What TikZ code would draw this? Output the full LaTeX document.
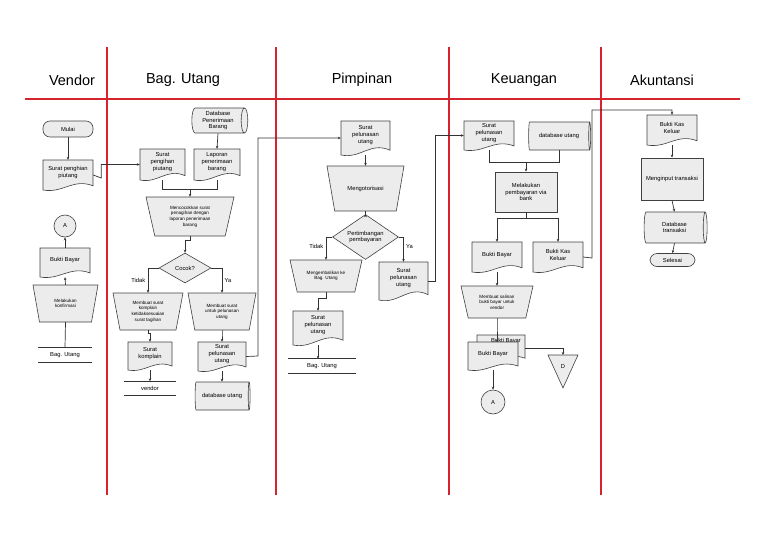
\documentclass[tikz,border=0pt]{standalone}
\usepackage{fontspec}
\setmainfont{Liberation Sans}
\usetikzlibrary{shapes.geometric,arrows.meta}
\definecolor{lanered}{RGB}{215,35,45}
\definecolor{shfill}{RGB}{236,236,236}
\tikzset{
  shp/.style={draw=black!75,fill=shfill,line width=0.6pt},
  box/.style={draw=none,inner sep=0pt,align=center,font=\fontsize{5.8}{6.8}\selectfont},
  tiny/.style={font=\fontsize{4.6}{5.6}\selectfont},
  arr/.style={draw=black!80,line width=0.7pt,-{Stealth[length=3pt,width=2.6pt]}},
  ln/.style={draw=black!80,line width=0.7pt},
  lane/.style={draw=lanered,line width=1.1pt},
  cyl/.style={shp,cylinder,shape aspect=0.35,inner sep=0pt,align=center,font=\fontsize{5.8}{6.8}\selectfont},
  term/.style={shp,rounded corners=7pt,inner sep=0pt,align=center,font=\fontsize{5.8}{6.8}\selectfont},
  hdr/.style={font=\fontsize{14.5}{16}\selectfont},
  lbl/.style={font=\fontsize{5.8}{6.8}\selectfont}
}
\newcommand\Docu[6]{%
 \draw[shp] (#2,#3)--(#4,#3)--(#4,{#5-0.14*(#5-#3)}) .. controls ({#2+0.6*(#4-#2)},{#5-0.4*(#5-#3)}) and ({#2+0.4*(#4-#2)},{#5+0.12*(#5-#3)}) .. (#2,#5) -- cycle;
 \node[box,minimum width={#4-#2},minimum height={#5-#3}] (#1) at ({(#2+#4)/2},{(#3+#5)/2}) {};
 \node[box] at ({(#2+#4)/2},{(#3+#5)/2-0.08*(#5-#3)}) {#6};}
\newcommand\Trap[6]{%
 \draw[shp] (#2,#3)--(#4,#3)--({#4-0.1*(#4-#2)},#5)--({#2+0.1*(#4-#2)},#5)--cycle;
 \node[box,minimum width={#4-#2},minimum height={#5-#3}] (#1) at ({(#2+#4)/2},{(#3+#5)/2}) {};
 \node[box,tiny] at ({(#2+#4)/2},{(#3+#5)/2}) {#6};}
\newcommand\Mark[5]{%
 \node[box,minimum width=#4,minimum height=14] (#1) at (#2,#3) {#5};
 \draw[ln] (#1.north west)--(#1.north east) (#1.south west)--(#1.south east);}
\begin{document}
\begin{tikzpicture}[x=1pt,y=-1pt]
\useasboundingbox (0,0) rectangle (768,538);
\foreach \x in {107,276,449,601} \draw[lane] (\x,47)--(\x,495);
\draw[lane] (25,99)--(740,99);
\node[hdr] (h1) at (72,80) {Vendor};
\node[hdr] (h2) at (183,80) {Bag. Utang};
\node[hdr] (h3) at (362,80) {Pimpinan};
\node[hdr] (h4) at (524,80) {Keuangan};
\node[hdr] (h5) at (662,80) {Akuntansi};
% Vendor
\node[term,minimum width=50,minimum height=16] (mulai) at (68,129) {Mulai};
\Docu{v1}{43}{160}{93}{190}{Surat penghian\\piutang}
\node[shp,circle,minimum size=22,inner sep=0pt,lbl] (vA) at (65,226) {A};
\Docu{vbb}{40}{248}{90}{277}{Bukti Bayar}
\Trap{vk}{33}{285}{98}{322}{Melakukan\\konfirmasi}
\Mark{vbu}{65}{355}{54}{Bag. Utang}
% Bag. Utang
\node[cyl,minimum height=56,minimum width=25] (dbp) at (218,120.5) {Database\\Penerimaan\\Barang};
\Docu{b1}{140}{149}{185}{180}{Surat\\pengihan\\piutang}
\Docu{lap}{194}{149}{240}{180}{Laporan\\penerimaan\\barang}
\Trap{mc}{146}{197}{234}{236}{Mencocokkan surat\\penagihan dengan\\laporan penerimaan\\barang}
\node[shp,diamond,aspect=1.75,minimum width=52,minimum height=30,inner sep=0pt,lbl] (ck) at (185,268) {Cocok?};
\Trap{tk}{113}{293}{183}{330}{Membuat surat\\komplain\\ketidaksesuaian\\surat tagihan}
\Trap{tp}{188}{293}{256}{330}{Membuat surat\\untuk pelunasan\\utang}
\Docu{sk}{128}{342}{172}{370}{Surat\\komplain}
\Mark{vend}{150}{388.5}{52}{vendor}
\Docu{sp1}{198}{342}{246}{371}{Surat\\pelunasan\\utang}
\node[cyl,minimum height=55,minimum width=28] (dbu1) at (222,396) {database utang};
% Pimpinan
\Docu{sp2}{341}{121}{390}{155}{Surat\\pelunasan\\utang}
\Trap{mo}{327}{166}{404}{211}{\fontsize{5.8}{6.8}\selectfont Mengotorisasi}
\node[shp,diamond,aspect=1.45,minimum width=66,minimum height=45,inner sep=0pt,lbl,align=center] (pt) at (365.5,237) {Pertimbangan\\pembayaran};
\Trap{mk}{290}{260}{362}{292}{Mengembalikan ke\\Bag. Utang}
\Docu{sp3}{293}{311}{343}{345}{Surat\\pelunasan\\utang}
\Mark{pbu}{322}{366}{68}{Bag. Utang}
\Docu{sp4}{379}{262}{428}{300}{Surat\\pelunasan\\utang}
% Keuangan
\Docu{sp5}{464}{121}{514}{150}{Surat\\pelunasan\\utang}
\node[cyl,minimum height=62,minimum width=28] (dbu2) at (559,136) {database utang};
\node[shp,minimum width=62,minimum height=40,inner sep=0pt,align=center,font=\fontsize{5.8}{6.8}\selectfont,line width=0.9pt] (pb) at (526,192) {Melakukan\\pembayaran via\\bank};
\Docu{kb}{472}{242}{522}{272}{Bukti Bayar}
\Docu{kk}{533}{242}{583}{272}{Bukti Kas\\Keluar}
\Trap{sl}{461}{286}{533}{318}{Membuat salinan\\bukti bayar untuk\\vendor}
\Docu{mb2}{477}{335}{525}{362}{}
\node[box] at (506,341) {Bukti Bayar};
\Docu{mb}{468}{342}{518}{370}{Bukti Bayar}
\draw[shp] (548,355)--(578,355)--(563,388)--cycle;
\node[box] (dD) at (563,366) {D};
\coordinate (dtop) at (563,355);
\node[shp,circle,minimum size=24,inner sep=0pt,lbl] (kA) at (493,402) {A};
% Akuntansi
\Docu{ak}{647}{115}{697}{145}{Bukti Kas\\Keluar}
\node[shp,minimum width=62,minimum height=42,inner sep=0pt,font=\fontsize{5.8}{6.8}\selectfont,line width=0.9pt] (mi) at (672,179) {Menginput transaksi};
\node[cyl,minimum height=63,minimum width=31] (dbt) at (674.5,227.5) {Database\\transaksi};
\node[term,minimum width=45,minimum height=13] (sel) at (672.5,260) {Selesai};
% connectors
\draw[arr] (mulai)--(v1);
\draw[arr] (v1.east)--++(8,3)|-(b1.west);
\draw[ln] (vbu.north)--(vk.south);
\draw[arr] (vk.north)--(vbb.south);
\draw[arr] (vbb.north)--(vbb.north|-vA.south);
\draw[arr] (dbp.south)--(lap.north);
\draw[ln] (b1.south)|-(190,189);
\draw[ln] (lap.south)|-(190,189);
\draw[arr] (190,189)--(mc.north);
\draw[arr] (mc.south)--++(0,4)-|(ck.north);
\draw[arr] (ck.west)-|(tk.north) node[lbl,pos=0.75,left=-1pt] {Tidak};
\draw[arr] (ck.east)-|(tp.north) node[lbl,pos=0.75,right=-1pt] {Ya};
\draw[arr] (tk.south)--++(0,3)-|(sk.north);
\draw[arr] (sk.south)--(sk.south|-vend.north);
\draw[arr] (tp.south)--++(0,3)-|(sp1.north);
\draw[arr] (sp1.south)--++(0,4)-|(dbu1.north);
\draw[arr] (sp1.east)--(258,356)|-(sp2.west);
\draw[arr] (sp2.south)--++(0,4)-|(mo.north);
\draw[arr] (mo.south)--++(0,4)-|(pt.north);
\draw[arr] (pt.west)-|(mk.north) node[lbl,pos=0.7,left=-1pt] {Tidak};
\draw[arr] (pt.east)-|(sp4.north) node[lbl,pos=0.7,right=-1pt] {Ya};
\draw[arr] (mk.south)--++(0,6)-|(sp3.north);
\draw[arr] (sp3.south)--(sp3.south|-pbu.north);
\draw[arr] (sp4.east)--(435,281)|-(sp5.west);
\draw[ln] (sp5.south)|-(526,162);
\draw[ln] (dbu2.south)|-(526,162);
\draw[arr] (526,162)--(pb.north);
\draw[arr] (pb.south)--(526,218)-|(kb.north);
\draw[arr] (526,218)-|(kk.north);
\draw[arr] (kb.south)--(sl.north);
\draw[arr] (sl.south)--++(0,6)-|(497,342);
\draw[arr] (mb2.east)|-(563,348)--(dtop);
\draw[arr] (mb.south)--(kA.north);
\draw[arr] (kk.east)--(592,258)|-(672,110)--(ak.north);
\draw[arr] (ak.south)--(mi.north);
\draw[arr] (mi.south)--(dbt.north);
\draw[arr] (dbt.south)--(sel.north);
\end{tikzpicture}
\end{document}
